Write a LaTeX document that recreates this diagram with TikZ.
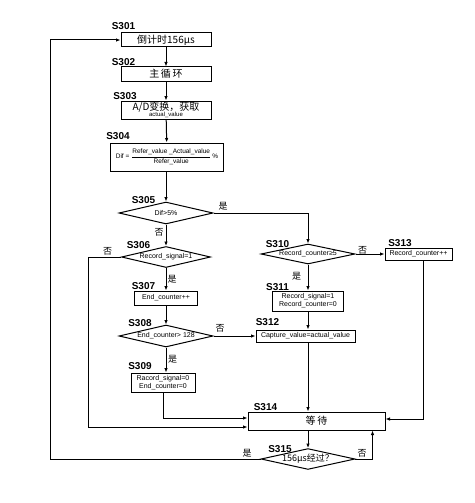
\documentclass[tikz,border=0pt]{standalone}
\usepackage{fontspec}
\setmainfont{Liberation Sans}
\newfontfamily\cjk{Noto Sans CJK SC}
\usetikzlibrary{shapes.geometric,arrows.meta}
\begin{document}
\begin{tikzpicture}[x=1pt,y=-1pt,line width=1pt,
    stepbox/.style={draw,rectangle,inner sep=0pt,align=center,font=\fontsize{7}{8}\selectfont},
    test/.style={draw,diamond,shape aspect=4.5,inner sep=0pt,font=\fontsize{7}{8}\selectfont},
    hanzi/.style={font=\cjk\fontsize{10}{11}\selectfont},
    tag/.style={font=\bfseries\fontsize{10}{10}\selectfont},
    yn/.style={font=\cjk\fontsize{9}{9}\selectfont},
    >={Latex[length=4.5pt,width=3.5pt]}]
  \useasboundingbox (0,0) rectangle (474,503);
  % main column
  \node[stepbox,hanzi,minimum width=90pt,minimum height=14pt] (s301) at (166,40) {倒计时156μs};
  \node[stepbox,hanzi,minimum width=90pt,minimum height=14pt] (s302) at (166,74) {主\,循\,环};
  \node[stepbox,minimum width=90pt,minimum height=18pt] (s303) at (166,110)
    {{\cjk\fontsize{10}{10}\selectfont A/D变换，获取}\\[-2pt]{\fontsize{6}{6}\selectfont actual\_value}};
  \node[stepbox,minimum width=113pt,minimum height=28pt,font=\fontsize{6.5}{7}\selectfont] (s304) at (167,157)
    {Dif = $\displaystyle\frac{\mbox{Refer\_value \_Actual\_value}}{\mbox{Refer\_value}}$\,\%};
  \node[test,minimum width=94pt,minimum height=22pt] (s305) at (166,213) {Dif>5\%};
  \node[test,minimum width=89pt,minimum height=21pt] (s306) at (166,257) {Record\_signal=1};
  \node[stepbox,minimum width=63pt,minimum height=14pt] (s307) at (166,298) {End\_counter++};
  \node[test,minimum width=94pt,minimum height=22pt] (s308) at (166,336) {End\_counter> 128};
  \node[stepbox,minimum width=64pt,minimum height=19pt] (s309) at (163,382.5) {Racord\_signal=0\\End\_counter=0};
  % right column
  \node[test,minimum width=94pt,minimum height=20pt] (s310) at (308,254) {Record\_counter≥5};
  \node[stepbox,minimum width=67pt,minimum height=12pt] (s313) at (418.5,254) {Record\_counter++};
  \node[stepbox,minimum width=71pt,minimum height=20pt] (s311) at (308,301) {Record\_signal=1\\Record\_counter=0};
  \node[stepbox,minimum width=99pt,minimum height=12pt] (s312) at (305.5,336) {Capture\_value=actual\_value};
  \node[stepbox,hanzi,minimum width=137pt,minimum height=18pt] (s314) at (316.5,421) {等\,待};
  \node[test,hanzi,font=\cjk\fontsize{9}{9}\selectfont,minimum width=91pt,minimum height=20pt] (s315) at (308,459) {156μs经过？};
  % step tags
  \node[tag] (t301) at (123.5,26) {S301};
  \node[tag] (t302) at (123.5,62.5) {S302};
  \node[tag] (t303) at (125,96) {S303};
  \node[tag] (t304) at (118,136.5) {S304};
  \node[tag] (t305) at (143.5,200) {S305};
  \node[tag] (t306) at (138.5,245) {S306};
  \node[tag] (t307) at (143.5,286.5) {S307};
  \node[tag] (t308) at (140,323.5) {S308};
  \node[tag] (t309) at (140,366) {S309};
  \node[tag] (t310) at (277.5,244.5) {S310};
  \node[tag] (t311) at (277.5,287) {S311};
  \node[tag] (t312) at (267.5,322) {S312};
  \node[tag] (t313) at (400,243) {S313};
  \node[tag] (t314) at (265.5,407) {S314};
  \node[tag] (t315) at (280,449.5) {S315};
  % yes / no
  \node[yn] (y305) at (223,206) {是};
  \node[yn] (n305) at (159,232) {否};
  \node[yn] (n306) at (107.5,251) {否};
  \node[yn] (y306) at (172,279) {是};
  \node[yn] (n308) at (220,328) {否};
  \node[yn] (y308) at (172.5,359) {是};
  \node[yn] (n310) at (362.5,250) {否};
  \node[yn] (y310) at (296.5,276) {是};
  \node[yn] (y315) at (247,453) {是};
  \node[yn] (n315) at (362,453) {否};
  \coordinate (outer) at (50,40);
  \coordinate (inner) at (88,427);
  \begin{scope}[->]
    \draw (s301) to (s302);
    \draw (s302) to (s303);
    \draw (s303) to (s304);
    \draw (s304.south -| s305) to (s305);
    \draw (s305) to (s306);
    \draw (s306) to (s307);
    \draw (s307) to (s308);
    \draw (s308.south) to (s308.south |- s309.north);
    \draw (s305.east) -| (s310.north);
    \draw (s306.west) -| (inner) -- (inner -| s314.west);
    \draw (s308.east) to (s308.east -| s312.west);
    \draw (s309.south) |- ([yshift=3pt]s314.west);
    \draw (s310) to (s313);
    \draw (s310) to (s311);
    \draw (s311.south) to (s311.south |- s312.north);
    \draw (s312.south -| s315) to (s314.north -| s315);
    \draw ([xshift=5pt]s313.south) |- ([yshift=2pt]s314.east);
    \draw (s314.south -| s315) to (s315);
    \draw (s315.east) -| ([xshift=56pt]s314.south);
    \draw (s315.west) -| (outer) -- (s301.west);
  \end{scope}
\end{tikzpicture}
\end{document}
